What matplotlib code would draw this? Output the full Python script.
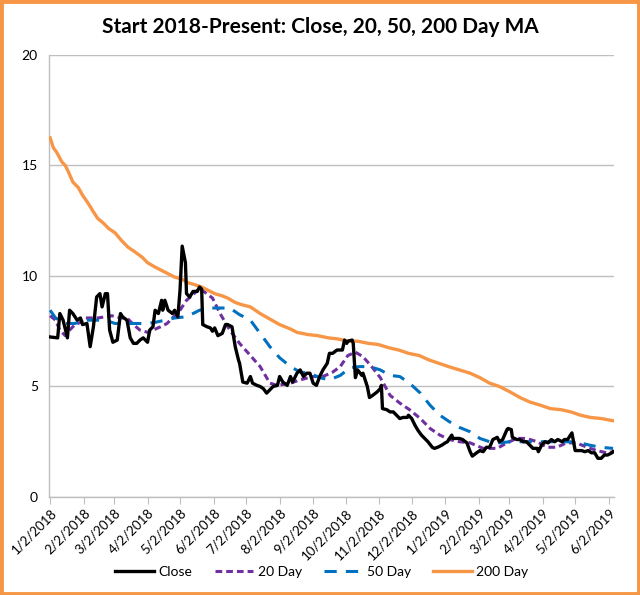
import matplotlib
matplotlib.use("Agg")
import matplotlib.pyplot as plt
from matplotlib.patches import Rectangle
import pandas as pd

# day offsets since 1/2/2018 and values
close_days = [0, 7, 9, 12, 16, 18, 21, 25, 28, 30, 34, 37, 40, 43, 46, 48, 51, 53, 55, 58,
              62, 65, 67, 71, 74, 77, 80, 83, 86, 90, 92, 95, 97, 100, 103, 104, 106, 109, 113, 115,
              118, 120, 122, 125, 126, 129, 132, 136, 138, 140, 141, 145, 148, 150, 152, 155, 159, 162, 164, 168,
              171, 174, 175, 178, 182, 185, 187, 191, 194, 197, 200, 203, 206, 210, 212, 215, 219, 222, 224, 228,
              231, 234, 237, 240, 243, 246, 249, 252, 256, 258, 261, 265, 268, 270, 272, 274, 275, 279, 280, 282,
              284, 288, 289, 293, 295, 298, 302, 305, 306, 307, 311, 314, 317, 320, 323, 326, 330, 331, 334, 337,
              340, 343, 346, 349, 353, 355, 358, 362, 365, 367, 371, 372, 376, 378, 381, 385, 388, 390, 394, 397,
              400, 403, 406, 409, 413, 415, 418, 422, 423, 426, 427, 431, 434, 437, 440, 443, 446, 450, 451, 454,
              457, 460, 463, 466, 469, 473, 475, 478, 482, 485, 487, 491, 494, 497, 500, 503, 506, 509, 512, 515,
              519, 520]
close_vals = [7.24, 7.2, 8.3, 8.0, 7.2, 8.45, 8.3, 8.0, 8.1, 7.8, 7.85, 6.8, 7.7, 9.05, 9.2, 8.6, 9.2, 9.2, 7.55, 7.0,
              7.1, 8.3, 8.15, 8.0, 7.2, 6.95, 6.95, 7.1, 7.2, 7.0, 7.55, 7.7, 8.45, 8.3, 8.9, 8.45, 8.9, 8.45, 8.3, 8.45,
              8.15, 9.35, 11.35, 10.6, 9.2, 9.05, 9.3, 9.3, 9.5, 9.4, 7.8, 7.7, 7.65, 7.5, 7.65, 7.3, 7.4, 7.8, 7.8, 7.7,
              6.8, 6.2, 6.05, 5.2, 5.15, 5.45, 5.15, 5.05, 5.0, 4.9, 4.7, 4.85, 5.0, 5.05, 5.45, 5.2, 5.05, 5.45, 5.2, 5.6,
              5.75, 5.45, 5.6, 5.6, 5.15, 5.05, 5.45, 5.75, 6.05, 6.5, 6.5, 6.65, 6.65, 6.65, 7.1, 6.95, 7.05, 7.1, 6.95, 5.4,
              5.75, 5.5, 5.6, 5.0, 4.5, 4.6, 4.75, 4.9, 5.05, 4.0, 3.95, 3.85, 3.85, 3.7, 3.55, 3.6, 3.6, 3.7, 3.55, 3.25,
              3.0, 2.8, 2.65, 2.5, 2.25, 2.2, 2.25, 2.35, 2.45, 2.5, 2.8, 2.65, 2.65, 2.65, 2.6, 2.45, 2.05, 1.85, 2.0, 2.1,
              2.05, 2.25, 2.25, 2.6, 2.7, 2.5, 2.6, 3.05, 3.1, 3.05, 2.7, 2.6, 2.6, 2.5, 2.5, 2.35, 2.2, 2.2, 2.05, 2.35,
              2.5, 2.45, 2.6, 2.5, 2.6, 2.5, 2.6, 2.6, 2.9, 2.1, 2.1, 2.1, 2.05, 2.1, 2.0, 2.0, 1.75, 1.75, 1.9, 1.9,
              2.0, 2.05]

ma20_days = [0, 5, 9, 14, 18, 23, 28, 32, 39, 44, 51, 57, 65, 71, 77, 83, 90, 95, 102, 108,
             114, 120, 126, 132, 138, 150, 157, 166, 175, 185, 194, 203, 210, 222, 231, 243, 252, 261, 268, 275,
             282, 289, 297, 305, 314, 323, 332, 342, 351, 360, 369, 378, 388, 400, 413, 422, 431, 440, 450, 459,
             468, 477, 486, 496, 505, 514, 520]
ma20_vals = [8.2, 8.0, 7.55, 7.3, 7.55, 7.8, 7.9, 8.1, 8.1, 8.1, 8.15, 8.2, 8.1, 8.1, 7.8, 7.55, 7.45, 7.55, 7.7, 7.85,
             8.15, 8.45, 8.9, 9.15, 9.45, 9.0, 8.3, 7.55, 6.95, 6.4, 5.9, 5.15, 5.05, 5.15, 5.3, 5.45, 5.45, 5.65, 5.9, 6.4,
             6.55, 6.35, 5.9, 5.4, 4.6, 4.25, 3.95, 3.55, 3.1, 2.8, 2.6, 2.5, 2.45, 2.2, 2.2, 2.45, 2.65, 2.65, 2.5, 2.25,
             2.25, 2.45, 2.45, 2.25, 2.1, 2.0, 2.05]

ma50_days = [0, 5, 14, 23, 32, 42, 51, 60, 69, 78, 88, 97, 106, 115, 125, 132, 138, 148, 157, 166,
             175, 185, 194, 203, 212, 222, 231, 240, 249, 258, 268, 277, 286, 295, 305, 314, 323, 332, 342, 351,
             360, 369, 378, 388, 397, 406, 415, 425, 434, 443, 452, 462, 471, 480, 489, 498, 508, 520]
ma50_vals = [8.45, 8.1, 7.85, 7.85, 8.0, 8.0, 8.0, 7.85, 7.85, 7.85, 7.85, 7.9, 8.0, 8.1, 8.15, 8.3, 8.45, 8.55, 8.55, 8.55,
             8.25, 8.0, 7.4, 6.8, 6.3, 5.9, 5.65, 5.6, 5.4, 5.3, 5.5, 5.85, 5.9, 5.9, 5.75, 5.5, 5.45, 5.15, 4.7, 4.15,
             3.7, 3.4, 3.15, 2.95, 2.65, 2.5, 2.45, 2.5, 2.5, 2.5, 2.5, 2.5, 2.5, 2.5, 2.45, 2.35, 2.25, 2.2]

ma200_days = [0, 3, 6, 11, 14, 17, 21, 26, 30, 35, 40, 44, 49, 54, 60, 66, 72, 78, 85, 90,
              97, 103, 109, 115, 122, 127, 134, 140, 146, 152, 159, 164, 171, 177, 185, 194, 203, 212, 222, 228,
              238, 247, 257, 266, 275, 284, 294, 303, 313, 322, 331, 341, 350, 359, 368, 378, 388, 397, 406, 415,
              425, 434, 443, 453, 462, 472, 481, 490, 499, 509, 520]
ma200_vals = [16.25, 15.8, 15.6, 15.15, 15.0, 14.7, 14.25, 14.0, 13.65, 13.3, 12.9, 12.6, 12.4, 12.15, 11.95, 11.6, 11.3, 11.1, 10.85, 10.6,
              10.4, 10.25, 10.1, 9.95, 9.85, 9.7, 9.6, 9.5, 9.35, 9.2, 9.1, 9.0, 8.8, 8.7, 8.6, 8.3, 8.05, 7.8, 7.6, 7.45,
              7.35, 7.3, 7.2, 7.15, 7.05, 7.05, 6.95, 6.9, 6.75, 6.65, 6.5, 6.4, 6.2, 6.05, 5.9, 5.75, 5.6, 5.4, 5.15, 5.0,
              4.75, 4.5, 4.3, 4.15, 4.0, 3.95, 3.85, 3.7, 3.6, 3.55, 3.45]

tick_labels = ["1/2/2018", "2/2/2018", "3/2/2018", "4/2/2018", "5/2/2018", "6/2/2018",
               "7/2/2018", "8/2/2018", "9/2/2018", "10/2/2018", "11/2/2018", "12/2/2018",
               "1/2/2019", "2/2/2019", "3/2/2019", "4/2/2019", "5/2/2019", "6/2/2019"]

start = pd.Timestamp("2018-01-02")


def to_dates(days):
    return start + pd.to_timedelta(days, unit="D")


plt.rcParams["font.family"] = ["Lato", "DejaVu Sans"]

fig = plt.figure(figsize=(6.4, 5.95), dpi=100)
ax = fig.add_axes([0.0766, 0.1647, 0.883, 0.743])

ax.plot(to_dates(close_days), close_vals, color="black", lw=2.4, label="Close", zorder=4)
ax.plot(to_dates(ma20_days), ma20_vals, color="#7030A0", lw=2.2, dashes=(2.2, 1.3), label="20 Day", zorder=3)
ax.plot(to_dates(ma50_days), ma50_vals, color="#0070C0", lw=2.2, dashes=(4.0, 3.0), label="50 Day", zorder=3)
ax.plot(to_dates(ma200_days), ma200_vals, color="#F79646", lw=2.4, label="200 Day", zorder=3)

ax.set_ylim(0, 20)
ax.set_yticks([0, 5, 10, 15, 20])
ax.set_xlim(start - pd.Timedelta(days=1), start + pd.Timedelta(days=521))
ticks = pd.to_datetime(tick_labels, format="%m/%d/%Y")
ax.set_xticks(ticks)
ax.set_xticklabels(tick_labels, rotation=45, ha="right", rotation_mode="anchor", fontsize=9.5)
ax.tick_params(axis="x", length=5, color="#BFBFBF", direction="out", pad=2)
ax.tick_params(axis="y", length=0, labelsize=10, pad=8)

ax.grid(axis="y", color="#BFBFBF", lw=1.0)
ax.set_axisbelow(True)
for side in ["top", "right"]:
    ax.spines[side].set_visible(False)
for side in ["left", "bottom"]:
    ax.spines[side].set_color("#BFBFBF")
    ax.spines[side].set_linewidth(1.0)

fig.suptitle("Start 2018-Present: Close, 20, 50, 200 Day MA", fontsize=15, fontweight="bold", y=0.972)

fig.legend(loc="center", bbox_to_anchor=(0.503, 0.039), ncol=4, frameon=False, fontsize=10,
           handlelength=2.8, columnspacing=1.6, handletextpad=0.3)

fig.patches.append(Rectangle((0.002, 0.002), 0.996, 0.996, transform=fig.transFigure,
                             fill=False, edgecolor="#F79646", lw=3.5))

fig.savefig("out.png", dpi=100)
